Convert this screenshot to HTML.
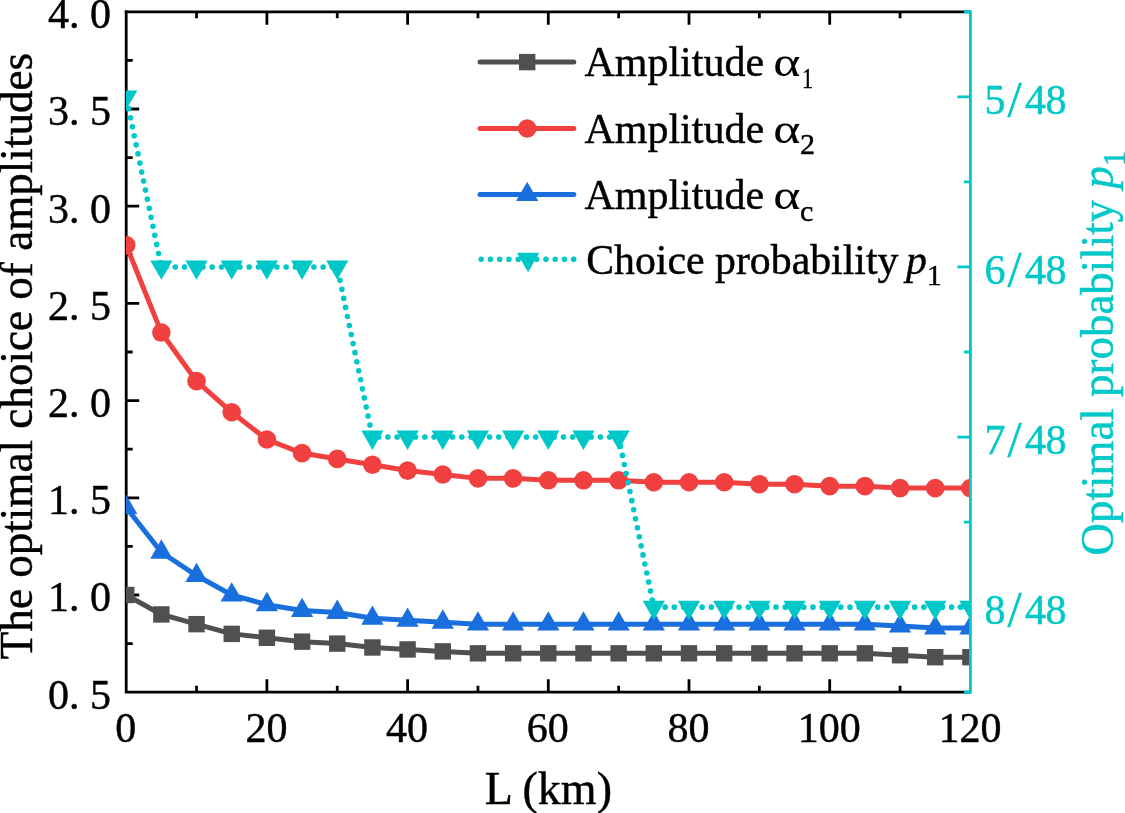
<!DOCTYPE html>
<html><head><meta charset="utf-8"><title>Optimal choice of amplitudes vs L</title>
<style>
html,body{margin:0;padding:0;background:#fff;}
body{width:1125px;height:813px;overflow:hidden;}
svg{display:block;}
text{font-family:"Liberation Serif","Times New Roman",serif;stroke-width:0.45;stroke-linejoin:round;}
.k{fill:#000;stroke:#000;}
.c{fill:#00c8c8;stroke:#00c8c8;}
</style></head><body>
<svg width="1125" height="813" viewBox="0 0 1125 813">
<rect width="1125" height="813" fill="#fff"/>
<defs><clipPath id="pa"><rect x="125.9" y="11.8" width="843.1" height="680.4"/></clipPath></defs>
<path d="M196.55 692.2V685.7M196.55 11.8V18.3M266.9 692.2V679.2M266.9 11.8V24.8M337.25 692.2V685.7M337.25 11.8V18.3M407.6 692.2V679.2M407.6 11.8V24.8M477.95 692.2V685.7M477.95 11.8V18.3M548.3 692.2V679.2M548.3 11.8V24.8M618.65 692.2V685.7M618.65 11.8V18.3M689 692.2V679.2M689 11.8V24.8M759.35 692.2V685.7M759.35 11.8V18.3M829.7 692.2V679.2M829.7 11.8V24.8M900.05 692.2V685.7M900.05 11.8V18.3M126.2 643.6H132.7M126.2 595H139.2M126.2 546.4H132.7M126.2 497.8H139.2M126.2 449.2H132.7M126.2 400.6H139.2M126.2 352H132.7M126.2 303.4H139.2M126.2 254.8H132.7M126.2 206.2H139.2M126.2 157.6H132.7M126.2 109H139.2M126.2 60.4H132.7" stroke="#000" stroke-width="2.8" fill="none"/>
<path d="M126.2 10.4V692.2H970.4" stroke="#000" stroke-width="2.8" fill="none" stroke-linejoin="miter"/>
<path d="M124.8 11.8H970.4" stroke="#000" stroke-width="2.8" fill="none"/>
<g clip-path="url(#pa)">
<polyline points="126.2,595 161.38,614.44 196.55,624.16 231.72,633.88 266.9,637.77 302.07,641.66 337.25,643.6 372.42,647.49 407.6,649.43 442.77,651.38 477.95,653.32 513.12,653.32 548.3,653.32 583.47,653.32 618.65,653.32 653.82,653.32 689,653.32 724.18,653.32 759.35,653.32 794.53,653.32 829.7,653.32 864.88,653.32 900.05,655.26 935.22,657.21 970.4,657.21" fill="none" stroke="#505050" stroke-width="5.0" stroke-linejoin="round"/>
<g><rect x="118" y="586.8" width="16.4" height="16.4" fill="#505050"/><rect x="153.18" y="606.24" width="16.4" height="16.4" fill="#505050"/><rect x="188.35" y="615.96" width="16.4" height="16.4" fill="#505050"/><rect x="223.53" y="625.68" width="16.4" height="16.4" fill="#505050"/><rect x="258.7" y="629.57" width="16.4" height="16.4" fill="#505050"/><rect x="293.88" y="633.46" width="16.4" height="16.4" fill="#505050"/><rect x="329.05" y="635.4" width="16.4" height="16.4" fill="#505050"/><rect x="364.22" y="639.29" width="16.4" height="16.4" fill="#505050"/><rect x="399.4" y="641.23" width="16.4" height="16.4" fill="#505050"/><rect x="434.57" y="643.18" width="16.4" height="16.4" fill="#505050"/><rect x="469.75" y="645.12" width="16.4" height="16.4" fill="#505050"/><rect x="504.93" y="645.12" width="16.4" height="16.4" fill="#505050"/><rect x="540.1" y="645.12" width="16.4" height="16.4" fill="#505050"/><rect x="575.27" y="645.12" width="16.4" height="16.4" fill="#505050"/><rect x="610.45" y="645.12" width="16.4" height="16.4" fill="#505050"/><rect x="645.62" y="645.12" width="16.4" height="16.4" fill="#505050"/><rect x="680.8" y="645.12" width="16.4" height="16.4" fill="#505050"/><rect x="715.98" y="645.12" width="16.4" height="16.4" fill="#505050"/><rect x="751.15" y="645.12" width="16.4" height="16.4" fill="#505050"/><rect x="786.33" y="645.12" width="16.4" height="16.4" fill="#505050"/><rect x="821.5" y="645.12" width="16.4" height="16.4" fill="#505050"/><rect x="856.67" y="645.12" width="16.4" height="16.4" fill="#505050"/><rect x="891.85" y="647.06" width="16.4" height="16.4" fill="#505050"/><rect x="927.02" y="649.01" width="16.4" height="16.4" fill="#505050"/><rect x="962.2" y="649.01" width="16.4" height="16.4" fill="#505050"/></g>
<polyline points="126.2,245.08 161.38,332.56 196.55,381.16 231.72,412.26 266.9,439.48 302.07,453.09 337.25,458.92 372.42,464.75 407.6,470.58 442.77,474.47 477.95,478.36 513.12,478.36 548.3,480.3 583.47,480.3 618.65,480.3 653.82,482.25 689,482.25 724.18,482.25 759.35,484.19 794.53,484.19 829.7,486.14 864.88,486.14 900.05,488.08 935.22,488.08 970.4,488.08" fill="none" stroke="#f04040" stroke-width="5.0" stroke-linejoin="round"/>
<g><circle cx="126.2" cy="245.08" r="9.3" fill="#f04040"/><circle cx="161.38" cy="332.56" r="9.3" fill="#f04040"/><circle cx="196.55" cy="381.16" r="9.3" fill="#f04040"/><circle cx="231.72" cy="412.26" r="9.3" fill="#f04040"/><circle cx="266.9" cy="439.48" r="9.3" fill="#f04040"/><circle cx="302.07" cy="453.09" r="9.3" fill="#f04040"/><circle cx="337.25" cy="458.92" r="9.3" fill="#f04040"/><circle cx="372.42" cy="464.75" r="9.3" fill="#f04040"/><circle cx="407.6" cy="470.58" r="9.3" fill="#f04040"/><circle cx="442.77" cy="474.47" r="9.3" fill="#f04040"/><circle cx="477.95" cy="478.36" r="9.3" fill="#f04040"/><circle cx="513.12" cy="478.36" r="9.3" fill="#f04040"/><circle cx="548.3" cy="480.3" r="9.3" fill="#f04040"/><circle cx="583.47" cy="480.3" r="9.3" fill="#f04040"/><circle cx="618.65" cy="480.3" r="9.3" fill="#f04040"/><circle cx="653.82" cy="482.25" r="9.3" fill="#f04040"/><circle cx="689" cy="482.25" r="9.3" fill="#f04040"/><circle cx="724.18" cy="482.25" r="9.3" fill="#f04040"/><circle cx="759.35" cy="484.19" r="9.3" fill="#f04040"/><circle cx="794.53" cy="484.19" r="9.3" fill="#f04040"/><circle cx="829.7" cy="486.14" r="9.3" fill="#f04040"/><circle cx="864.88" cy="486.14" r="9.3" fill="#f04040"/><circle cx="900.05" cy="488.08" r="9.3" fill="#f04040"/><circle cx="935.22" cy="488.08" r="9.3" fill="#f04040"/><circle cx="970.4" cy="488.08" r="9.3" fill="#f04040"/></g>
<polyline points="126.2,507.52 161.38,552.23 196.55,575.56 231.72,595 266.9,604.72 302.07,610.55 337.25,612.5 372.42,618.33 407.6,620.27 442.77,622.22 477.95,624.16 513.12,624.16 548.3,624.16 583.47,624.16 618.65,624.16 653.82,624.16 689,624.16 724.18,624.16 759.35,624.16 794.53,624.16 829.7,624.16 864.88,624.16 900.05,626.1 935.22,628.05 970.4,628.05" fill="none" stroke="#1a6fdf" stroke-width="5.0" stroke-linejoin="round"/>
<g><path d="M126.2 494.65L137.35 513.96L115.05 513.96Z" fill="#1a6fdf"/><path d="M161.38 539.36L172.53 558.67L150.22 558.67Z" fill="#1a6fdf"/><path d="M196.55 562.69L207.7 582L185.4 582Z" fill="#1a6fdf"/><path d="M231.72 582.13L242.88 601.44L220.57 601.44Z" fill="#1a6fdf"/><path d="M266.9 591.85L278.05 611.16L255.75 611.16Z" fill="#1a6fdf"/><path d="M302.07 597.68L313.22 616.99L290.93 616.99Z" fill="#1a6fdf"/><path d="M337.25 599.62L348.4 618.93L326.1 618.93Z" fill="#1a6fdf"/><path d="M372.42 605.45L383.57 624.77L361.27 624.77Z" fill="#1a6fdf"/><path d="M407.6 607.4L418.75 626.71L396.45 626.71Z" fill="#1a6fdf"/><path d="M442.77 609.34L453.92 628.65L431.62 628.65Z" fill="#1a6fdf"/><path d="M477.95 611.29L489.1 630.6L466.8 630.6Z" fill="#1a6fdf"/><path d="M513.12 611.29L524.27 630.6L501.98 630.6Z" fill="#1a6fdf"/><path d="M548.3 611.29L559.45 630.6L537.15 630.6Z" fill="#1a6fdf"/><path d="M583.47 611.29L594.62 630.6L572.32 630.6Z" fill="#1a6fdf"/><path d="M618.65 611.29L629.8 630.6L607.5 630.6Z" fill="#1a6fdf"/><path d="M653.82 611.29L664.97 630.6L642.67 630.6Z" fill="#1a6fdf"/><path d="M689 611.29L700.15 630.6L677.85 630.6Z" fill="#1a6fdf"/><path d="M724.18 611.29L735.33 630.6L713.03 630.6Z" fill="#1a6fdf"/><path d="M759.35 611.29L770.5 630.6L748.2 630.6Z" fill="#1a6fdf"/><path d="M794.53 611.29L805.68 630.6L783.38 630.6Z" fill="#1a6fdf"/><path d="M829.7 611.29L840.85 630.6L818.55 630.6Z" fill="#1a6fdf"/><path d="M864.88 611.29L876.02 630.6L853.73 630.6Z" fill="#1a6fdf"/><path d="M900.05 613.23L911.2 632.54L888.9 632.54Z" fill="#1a6fdf"/><path d="M935.22 615.17L946.37 634.49L924.07 634.49Z" fill="#1a6fdf"/><path d="M970.4 615.17L981.55 634.49L959.25 634.49Z" fill="#1a6fdf"/></g>
<polyline points="126.2,96.85 161.38,266.95 196.55,266.95 231.72,266.95 266.9,266.95 302.07,266.95 337.25,266.95 372.42,437.05 407.6,437.05 442.77,437.05 477.95,437.05 513.12,437.05 548.3,437.05 583.47,437.05 618.65,437.05 653.82,607.15 689,607.15 724.18,607.15 759.35,607.15 794.53,607.15 829.7,607.15 864.88,607.15 900.05,607.15 935.22,607.15 970.4,607.15" fill="none" stroke="#00c8c8" stroke-width="5.6" stroke-linecap="round" stroke-dasharray="0 9.24" stroke-dashoffset="-2.82"/>
<g><path d="M126.2 109.72L137.35 90.41L115.05 90.41Z" fill="#00c8c8"/><path d="M161.38 279.82L172.53 260.51L150.22 260.51Z" fill="#00c8c8"/><path d="M196.55 279.82L207.7 260.51L185.4 260.51Z" fill="#00c8c8"/><path d="M231.72 279.82L242.88 260.51L220.57 260.51Z" fill="#00c8c8"/><path d="M266.9 279.82L278.05 260.51L255.75 260.51Z" fill="#00c8c8"/><path d="M302.07 279.82L313.22 260.51L290.93 260.51Z" fill="#00c8c8"/><path d="M337.25 279.82L348.4 260.51L326.1 260.51Z" fill="#00c8c8"/><path d="M372.42 449.92L383.57 430.61L361.27 430.61Z" fill="#00c8c8"/><path d="M407.6 449.92L418.75 430.61L396.45 430.61Z" fill="#00c8c8"/><path d="M442.77 449.92L453.92 430.61L431.62 430.61Z" fill="#00c8c8"/><path d="M477.95 449.92L489.1 430.61L466.8 430.61Z" fill="#00c8c8"/><path d="M513.12 449.92L524.27 430.61L501.98 430.61Z" fill="#00c8c8"/><path d="M548.3 449.92L559.45 430.61L537.15 430.61Z" fill="#00c8c8"/><path d="M583.47 449.92L594.62 430.61L572.32 430.61Z" fill="#00c8c8"/><path d="M618.65 449.92L629.8 430.61L607.5 430.61Z" fill="#00c8c8"/><path d="M653.82 620.02L664.97 600.71L642.67 600.71Z" fill="#00c8c8"/><path d="M689 620.02L700.15 600.71L677.85 600.71Z" fill="#00c8c8"/><path d="M724.18 620.02L735.33 600.71L713.03 600.71Z" fill="#00c8c8"/><path d="M759.35 620.02L770.5 600.71L748.2 600.71Z" fill="#00c8c8"/><path d="M794.53 620.02L805.68 600.71L783.38 600.71Z" fill="#00c8c8"/><path d="M829.7 620.02L840.85 600.71L818.55 600.71Z" fill="#00c8c8"/><path d="M864.88 620.02L876.02 600.71L853.73 600.71Z" fill="#00c8c8"/><path d="M900.05 620.02L911.2 600.71L888.9 600.71Z" fill="#00c8c8"/><path d="M935.22 620.02L946.37 600.71L924.07 600.71Z" fill="#00c8c8"/><path d="M970.4 620.02L981.55 600.71L959.25 600.71Z" fill="#00c8c8"/></g>
</g>
<path d="M970.4 11.8V692.2" stroke="#00c8c8" stroke-width="2.8" fill="none" stroke-linecap="square"/>
<path d="M970.4 11.8H963.9M970.4 96.85H957.4M970.4 181.9H963.9M970.4 266.95H957.4M970.4 352H963.9M970.4 437.05H957.4M970.4 522.1H963.9M970.4 607.15H957.4M970.4 692.2H963.9" stroke="#00c8c8" stroke-width="2.8" fill="none"/>
<g font-size="42" class="k">
<text x="111" y="708.5" text-anchor="end">0. 5</text>
<text x="111" y="611.3" text-anchor="end">1. 0</text>
<text x="111" y="514.1" text-anchor="end">1. 5</text>
<text x="111" y="416.9" text-anchor="end">2. 0</text>
<text x="111" y="319.7" text-anchor="end">2. 5</text>
<text x="111" y="222.5" text-anchor="end">3. 0</text>
<text x="111" y="125.3" text-anchor="end">3. 5</text>
<text x="111" y="28.1" text-anchor="end">4. 0</text>
<text x="125.7" y="742" text-anchor="middle">0</text>
<text x="266.4" y="742" text-anchor="middle">20</text>
<text x="407.1" y="742" text-anchor="middle">40</text>
<text x="547.8" y="742" text-anchor="middle">60</text>
<text x="688.5" y="742" text-anchor="middle">80</text>
<text x="829.2" y="742" text-anchor="middle">100</text>
<text x="969.9" y="742" text-anchor="middle">120</text>
</g>
<g font-size="42" class="c">
<text x="984.6" y="113.75">5<tspan x="1007.6" dy="2.3" font-size="51">/</tspan><tspan x="1025.1" dy="-2.3">4</tspan><tspan x="1045.4">8</tspan></text>
<text x="984.6" y="283.85">6<tspan x="1007.6" dy="2.3" font-size="51">/</tspan><tspan x="1025.1" dy="-2.3">4</tspan><tspan x="1045.4">8</tspan></text>
<text x="984.6" y="453.95">7<tspan x="1007.6" dy="2.3" font-size="51">/</tspan><tspan x="1025.1" dy="-2.3">4</tspan><tspan x="1045.4">8</tspan></text>
<text x="984.6" y="624.05">8<tspan x="1007.6" dy="2.3" font-size="51">/</tspan><tspan x="1025.1" dy="-2.3">4</tspan><tspan x="1045.4">8</tspan></text>
</g>
<text transform="translate(548.3 803.8) scale(1 1.02)" font-size="46" text-anchor="middle" class="k">L (km)</text>
<text transform="translate(31.7 356.05) rotate(-90) scale(1 1.03)" font-size="45.12" text-anchor="middle" class="k">The optimal choice of amplitudes</text>
<text transform="translate(1113.2 353.25) rotate(-90) scale(1 1.02)" font-size="44.94" text-anchor="middle" class="c">Optimal probability <tspan font-style="italic">p</tspan><tspan font-size="30" dy="11.3">1</tspan></text>
<line x1="480.0" y1="62.1" x2="573.8" y2="62.1" stroke="#505050" stroke-width="5.0" stroke-linecap="round"/>
<rect x="519" y="53.9" width="16.4" height="16.4" fill="#505050"/>
<line x1="480.0" y1="128.5" x2="573.8" y2="128.5" stroke="#f04040" stroke-width="5.0" stroke-linecap="round"/>
<circle cx="527.2" cy="128.5" r="9.3" fill="#f04040"/>
<line x1="480.0" y1="194.5" x2="573.8" y2="194.5" stroke="#1a6fdf" stroke-width="5.0" stroke-linecap="round"/>
<path d="M527.2 181.63L538.35 200.94L516.05 200.94Z" fill="#1a6fdf"/>
<line x1="481.2" y1="259.3" x2="574" y2="259.3" stroke="#00c8c8" stroke-width="5.6" stroke-linecap="round" stroke-dasharray="0 9.25"/>
<path d="M528.1 272.17L539.25 252.86L516.95 252.86Z" fill="#00c8c8"/>
<g font-size="42" class="k">
<text x="584.4" y="76.2">Amplitude</text>
<text transform="translate(773.14 76.2) scale(1.23 1)" style="stroke-width:0.1">α</text>
<text transform="translate(807.83 87.5) scale(0.74 1)" x="-7.92" font-size="30">1</text>
<text x="584.4" y="142.8">Amplitude</text>
<text transform="translate(773.14 142.8) scale(1.23 1)" style="stroke-width:0.1">α</text>
<text x="799.91" y="154.1" font-size="30">2</text>
<text x="584.4" y="209.2">Amplitude</text>
<text transform="translate(773.14 209.2) scale(1.23 1)" style="stroke-width:0.1">α</text>
<text x="799.91" y="220.5" font-size="30">c</text>
<text x="586.2" y="273.5" font-size="41.8">Choice probability <tspan font-style="italic" dx="-3">p</tspan><tspan font-size="30" dy="11.3">1</tspan></text>
</g>
</svg>
</body></html>
